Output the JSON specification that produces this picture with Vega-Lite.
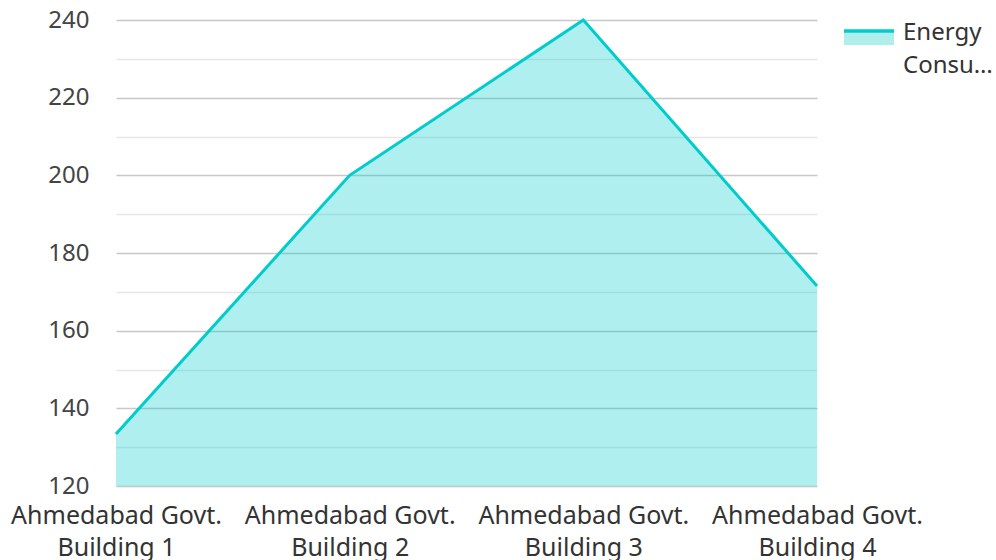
{
  "$schema": "https://vega.github.io/schema/vega-lite/v6.json",
  "autosize": {"type": "none"},
  "width": 701,
  "height": 466,
  "padding": {"left": 116, "top": 20, "right": 179, "bottom": 74},
  "config": {
    "view": {"stroke": null},
    "font": "Noto Sans"
  },
  "data": {
    "values": [
      {"building": "Ahmedabad Govt. Building 1", "value": 133.4, "series": "Energy Consumption (kWh)"},
      {"building": "Ahmedabad Govt. Building 2", "value": 200, "series": "Energy Consumption (kWh)"},
      {"building": "Ahmedabad Govt. Building 3", "value": 240, "series": "Energy Consumption (kWh)"},
      {"building": "Ahmedabad Govt. Building 4", "value": 171.5, "series": "Energy Consumption (kWh)"}
    ]
  },
  "encoding": {
    "x": {
      "field": "building",
      "type": "ordinal",
      "sort": null,
      "scale": {"type": "point", "padding": 0},
      "axis": {
        "title": null,
        "labelAngle": 0,
        "domain": false,
        "ticks": false,
        "labelFontSize": 25,
        "labelColor": "#333333",
        "labelPadding": 17,
        "labelLineHeight": 32,
        "labelLimit": 300,
        "labelExpr": "[slice(datum.label, 0, 15), slice(datum.label, 16)]"
      }
    },
    "y": {
      "field": "value",
      "type": "quantitative",
      "scale": {"domain": [120, 240], "nice": false, "zero": false},
      "axis": {
        "title": null,
        "values": [120, 130, 140, 150, 160, 170, 180, 190, 200, 210, 220, 230, 240],
        "labelExpr": "datum.value % 20 === 0 ? datum.label : ''",
        "domain": false,
        "ticks": false,
        "labelFontSize": 24,
        "labelColor": "#444444",
        "labelPadding": 27,
        "gridColor": {"condition": {"test": "datum.value % 20 === 0", "value": "#c8c8c8"}, "value": "#e6e6e6"},
        "gridWidth": 1.5
      }
    }
  },
  "layer": [
    {
      "mark": {"type": "area", "color": "#00cccc", "fillOpacity": 0.31},
      "encoding": {"y2": {"datum": 120}}
    },
    {
      "mark": {"type": "line", "strokeWidth": 3},
      "encoding": {
        "color": {
          "field": "series",
          "type": "nominal",
          "scale": {"range": ["#00cccc"]},
          "legend": {
            "title": null,
            "orient": "none",
            "legendX": 726,
            "legendY": -14,
            "symbolType": "M-1,-0.08H1V0.48H-1Z",
            "symbolSize": 2500,
            "symbolStrokeWidth": 3.5,
            "symbolDash": [50, 1000],
            "symbolFillColor": "#b0eeec",
            "symbolOpacity": 1,
            "labelOffset": 7,
            "labelFontSize": 24,
            "labelColor": "#333333",
            "labelLimit": 200,
            "labelExpr": "['Energy', 'Consu…']",
            "encode": {
              "labels": {"update": {"lineHeight": {"value": 33}}}
            }
          }
        }
      }
    }
  ]
}
